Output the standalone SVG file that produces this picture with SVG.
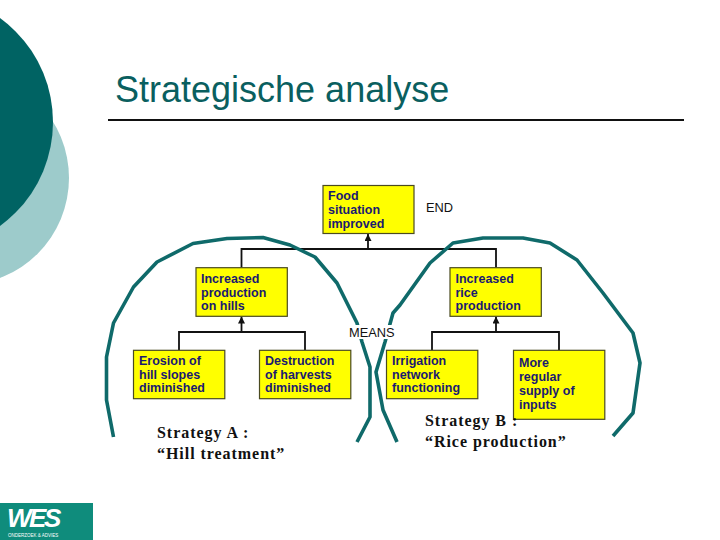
<svg xmlns="http://www.w3.org/2000/svg" width="720" height="540" viewBox="0 0 720 540">
<style>
.box{fill:#ffff00;stroke:#4a4a20;stroke-width:1.2}
.bt{font:bold 12.5px "Liberation Sans",Arial,sans-serif;fill:#1a1a70}
.lbl{font:12.8px "Liberation Sans",Arial,sans-serif;fill:#111}
.st{font:bold 16px "Liberation Serif","Times New Roman",serif;fill:#111;letter-spacing:.95px}
.conn{fill:none;stroke:#111;stroke-width:1.8}
.curve{fill:none;stroke:#0f6a6a;stroke-width:3.6;stroke-linejoin:round}
</style>
<defs><marker id="arr" markerUnits="userSpaceOnUse" markerWidth="8" markerHeight="8" refX="7" refY="3.5" orient="auto"><path d="M0,0L7,3.5L0,7z" fill="#111"/></marker></defs>
<rect width="720" height="540" fill="#fff"/>
<g id="background">
<circle cx="-38" cy="178" r="107" fill="#9dcbcb"/>
<circle cx="-75.5" cy="122" r="128.5" fill="#006363"/>
</g>
<text x="115" y="102" font-family="Liberation Sans, Arial, sans-serif" font-size="36" fill="#0a5f5f">Strategische analyse</text>
<line x1="108" y1="120" x2="684" y2="120" stroke="#111" stroke-width="1.8"/>
<g id="connectors">
<path class="conn" d="M368,249V234" marker-end="url(#arr)"/>
<path class="conn" d="M241.500,267.700V249H496V267.700"/>
<path class="conn" d="M241.500,332V316.500" marker-end="url(#arr)"/>
<path class="conn" d="M179,350.300V332H305V350.300"/>
<path class="conn" d="M496,332V316.500" marker-end="url(#arr)"/>
<path class="conn" d="M432,350.300V332H559V350.300"/>
</g>
<g id="strategy-curves">
<path class="curve" d="M113.500,437L106.500,400L106.500,357L113.500,323L133.500,287L157,262L193,243.500L227,238.500L263,237.500L290,245L315,257L337,283L357,323L362,342L370,367L370,417L357,442"/>
<path class="curve" d="M397,442L383,410L376,372L385,342L393,313L400,305L430,263L453,243L483,238L523,238L550,243L577,260L603,293L633,333L640,363L633,413L613,436"/>
</g>
<g id="node-food"><rect class="box" x="323" y="185.500" width="91" height="48"/><text class="bt"><tspan x="328" y="200">Food</tspan><tspan x="328" y="214">situation</tspan><tspan x="328" y="227.500">improved</tspan></text></g>
<g id="node-end"><text class="lbl" x="426" y="212">END</text></g>
<g id="node-hills"><rect class="box" x="196" y="267.700" width="91.300" height="48.600"/><text class="bt"><tspan x="201" y="283">Increased</tspan><tspan x="201" y="297">production</tspan><tspan x="201" y="310">on hills</tspan></text></g>
<g id="node-rice"><rect class="box" x="450" y="267.700" width="91.300" height="48.600"/><text class="bt"><tspan x="455.500" y="283">Increased</tspan><tspan x="455.500" y="297">rice</tspan><tspan x="455.500" y="310">production</tspan></text></g>
<g id="node-means"><rect x="347" y="325" width="50" height="14" fill="#fff"/><text class="lbl" x="349" y="336.500">MEANS</text></g>
<g id="node-erosion"><rect class="box" x="133.500" y="350.300" width="91.300" height="48.400"/><text class="bt"><tspan x="139" y="365">Erosion of</tspan><tspan x="139" y="379">hill slopes</tspan><tspan x="139" y="392">diminished</tspan></text></g>
<g id="node-destruction"><rect class="box" x="259.500" y="350.300" width="91.300" height="48.400"/><text class="bt"><tspan x="265" y="365">Destruction</tspan><tspan x="265" y="379">of harvests</tspan><tspan x="265" y="392">diminished</tspan></text></g>
<g id="node-irrigation"><rect class="box" x="386.500" y="350.300" width="91.300" height="48.400"/><text class="bt"><tspan x="392" y="365">Irrigation</tspan><tspan x="392" y="379">network</tspan><tspan x="392" y="392">functioning</tspan></text></g>
<g id="node-inputs"><rect class="box" x="513.500" y="350.300" width="91.300" height="69"/><text class="bt"><tspan x="519" y="367">More</tspan><tspan x="519" y="381">regular</tspan><tspan x="519" y="395">supply of</tspan><tspan x="519" y="408.500">inputs</tspan></text></g>
<g id="strategy-a"><text class="st"><tspan x="157" y="438">Strategy A :</tspan><tspan x="157" y="459">“Hill treatment”</tspan></text></g>
<g id="strategy-b"><text class="st"><tspan x="425" y="426">Strategy B :</tspan><tspan x="425" y="447">“Rice production”</tspan></text></g>
<g id="logo"><rect x="0" y="503" width="93" height="37" fill="#0f8c7c"/>
<text x="7" y="527" font-family="Liberation Sans, Arial, sans-serif" font-size="26" font-weight="bold" font-style="italic" fill="#fff" letter-spacing="-2.500">WES</text>
<text x="8" y="537" font-family="Liberation Sans, Arial, sans-serif" font-size="4.500" fill="#fff">ONDERZOEK &amp; ADVIES</text></g>
</svg>
